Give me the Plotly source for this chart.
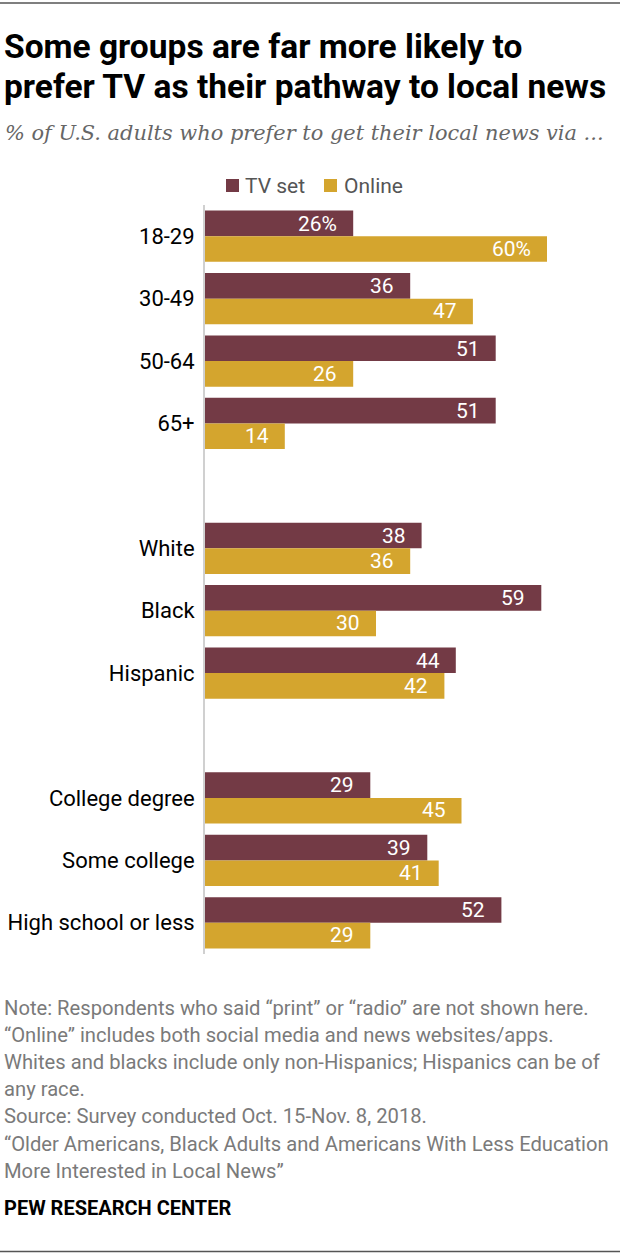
import plotly.graph_objects as go

categories = ["18-29", "30-49", "50-64", "65+", "White", "Black", "Hispanic",
              "College degree", "Some college", "High school or less"]
positions = [0, 1, 2, 3, 5, 6, 7, 9, 10, 11]
tv_values = [26, 36, 51, 51, 38, 59, 44, 29, 39, 52]
online_values = [60, 47, 26, 14, 36, 30, 42, 45, 41, 29]
series_names = ["TV set", "Online"]

TV_COLOR = "#733a45"
ON_COLOR = "#d4a52e"
FONT = "Roboto, Liberation Sans, sans-serif"

W, H = 620, 1254
PLOT_L, PLOT_R = 205, 620
PLOT_T, PLOT_B = 205, 953.6
PXU = 5.7


def px(p):
    return (p - PLOT_L) / (PLOT_R - PLOT_L)


def py(p):
    return (PLOT_B - p) / (PLOT_B - PLOT_T)


fig = go.Figure()
fig.add_trace(go.Bar(
    y=positions, x=tv_values, orientation="h", name=series_names[0],
    marker=dict(color=TV_COLOR, line=dict(width=0)), hoverinfo="skip"))
fig.add_trace(go.Bar(
    y=positions, x=online_values, orientation="h", name=series_names[1],
    marker=dict(color=ON_COLOR, line=dict(width=0)), hoverinfo="skip"))

annotations = []
label_font = dict(family=FONT, size=21, color="white")
for i, (p, tv, on) in enumerate(zip(positions, tv_values, online_values)):
    suffix = "%" if i == 0 else ""
    annotations.append(dict(x=tv, y=p - 0.2, xref="x", yref="y", text=f"{tv}{suffix}",
                            showarrow=False, xanchor="right", yanchor="middle",
                            xshift=-14, font=label_font))
    annotations.append(dict(x=on, y=p + 0.2, xref="x", yref="y", text=f"{on}{suffix}",
                            showarrow=False, xanchor="right", yanchor="middle",
                            xshift=-14, font=label_font))

title_font = dict(family=FONT, size=33.5, color="black")
annotations.append(dict(x=px(2), y=py(47), xref="paper", yref="paper", xanchor="left",
                        yanchor="middle", showarrow=False,
                        text="<b>Some groups are far more likely to</b>", font=title_font))
annotations.append(dict(x=px(2), y=py(87), xref="paper", yref="paper", xanchor="left",
                        yanchor="middle", showarrow=False,
                        text="<b>prefer TV as their pathway to local news</b>", font=title_font))
annotations.append(dict(x=px(3), y=py(133), xref="paper", yref="paper", xanchor="left",
                        yanchor="middle", showarrow=False,
                        text="<i>% of U.S. adults who prefer to get their local news via ...</i>",
                        font=dict(family="DejaVu Serif, Liberation Serif, serif", size=20.9,
                                  color="#666666")))

# legend (text as annotations, swatches as shapes)
legend_font = dict(family=FONT, size=21, color="#555555")
annotations.append(dict(x=px(243), y=py(186), xref="paper", yref="paper", xanchor="left",
                        yanchor="middle", showarrow=False, text=series_names[0],
                        font=legend_font))
annotations.append(dict(x=px(342), y=py(186), xref="paper", yref="paper", xanchor="left",
                        yanchor="middle", showarrow=False, text=series_names[1],
                        font=legend_font))

note_lines = [
    "Note: Respondents who said “print” or “radio” are not shown here.",
    "“Online” includes both social media and news websites/apps.",
    "Whites and blacks include only non-Hispanics; Hispanics can be of",
    "any race.",
    "Source: Survey conducted Oct. 15-Nov. 8, 2018.",
    "“Older Americans, Black Adults and Americans With Less Education",
    "More Interested in Local News”",
]
note_font = dict(family=FONT, size=20.2, color="#7a7a7a")
for k, line in enumerate(note_lines):
    annotations.append(dict(x=px(2), y=py(1008 + 27 * k), xref="paper", yref="paper",
                            xanchor="left", yanchor="middle", showarrow=False,
                            text=line, font=note_font))
annotations.append(dict(x=px(2), y=py(1207), xref="paper", yref="paper", xanchor="left",
                        yanchor="middle", showarrow=False, text="<b>PEW RESEARCH CENTER</b>",
                        font=dict(family=FONT, size=20, color="black")))

shapes = [
    dict(type="line", xref="paper", yref="paper", x0=px(0), x1=px(620),
         y0=py(3), y1=py(3), line=dict(color="#555555", width=1.5)),
    dict(type="line", xref="paper", yref="paper", x0=px(0), x1=px(620),
         y0=py(1251), y1=py(1251), line=dict(color="#555555", width=1.5)),
    dict(type="rect", xref="paper", yref="paper", x0=px(226), x1=px(239),
         y0=py(192), y1=py(179), fillcolor=TV_COLOR, line=dict(width=0)),
    dict(type="rect", xref="paper", yref="paper", x0=px(324), x1=px(337),
         y0=py(192), y1=py(179), fillcolor=ON_COLOR, line=dict(width=0)),
]

fig.update_layout(
    width=W, height=H,
    margin=dict(l=PLOT_L, r=W - PLOT_R, t=PLOT_T, b=H - PLOT_B, pad=0),
    paper_bgcolor="white", plot_bgcolor="white",
    barmode="group", bargap=0.18, bargroupgap=0,
    showlegend=False,
    xaxis=dict(range=[0, (PLOT_R - PLOT_L) / PXU], showgrid=False, zeroline=False,
               showticklabels=False, showline=False, fixedrange=True),
    yaxis=dict(range=[11.5, -0.5], tickvals=positions, ticktext=categories,
               showgrid=False, zeroline=False, showline=True, linecolor="#d0d0d0",
               linewidth=2, ticks="", ticklabelstandoff=4,
               tickfont=dict(family=FONT, size=22, color="black"), fixedrange=True),
    annotations=annotations, shapes=shapes,
    font=dict(family=FONT),
)

fig.write_html("out.html", config={"displayModeBar": False},
               post_script="document.body.style.margin='0';")
